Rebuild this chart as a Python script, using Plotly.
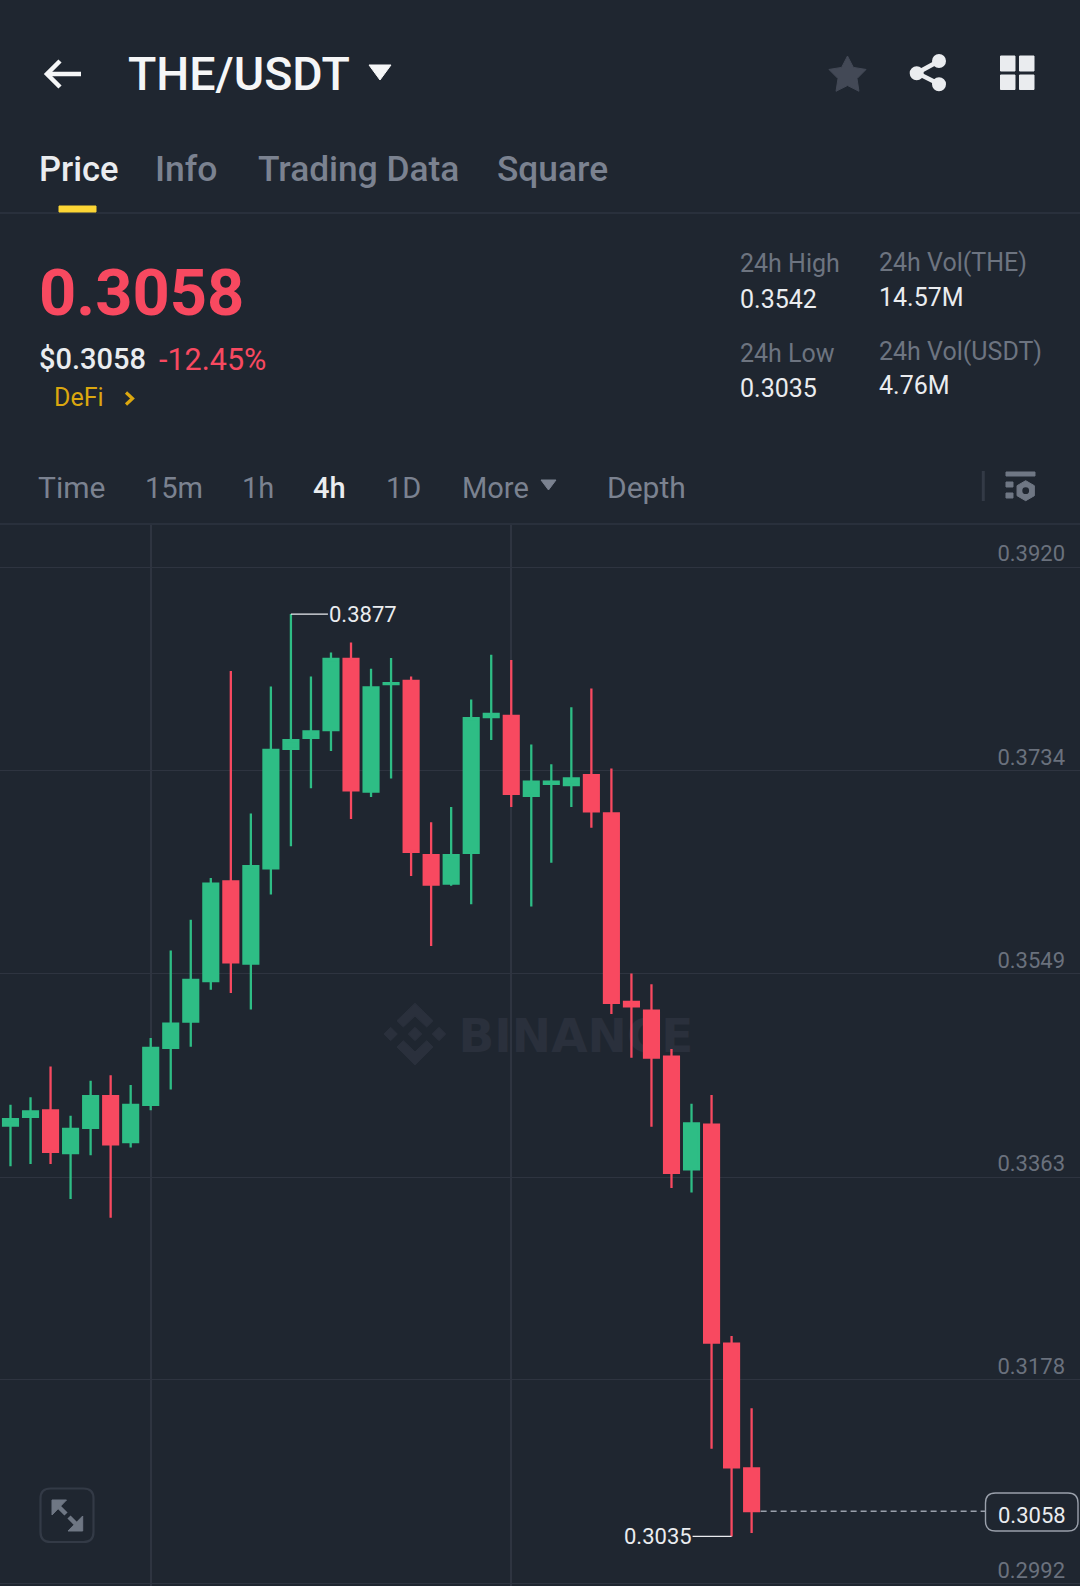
import math
import plotly.graph_objects as go

W, H = 1080, 1586
BG = "#1f2630"
GRID = "#2e3440"
RED = "#f84960"
GREEN = "#2ebd85"
WHITE = "#eaecef"
GREY = "#7b8290"
DIM = "#6d7480"
ICON = "#6f7784"
FONT = "Roboto"

opens = [.3410,.3418,.3424,.3385,.3408,.3437,.3395,.3429,.3481,.3505,.3542,.3633,.3558,.3645,.3754,.3764,.3771,.3836,.3715,
         .3813,.3816,.3657,.3631,.3659,.3783,.3784,.3711,.3722,.3721,.3730,.3695,.3523,.3515,.3473,.3370,.3411,.3211,.3097]
highs = [.3429,.3436,.3464,.3419,.3451,.3456,.3447,.3490,.3570,.3598,.3636,.3825,.3695,.3811,.3877,.3820,.3842,.3851,.3827,
         .3837,.3820,.3687,.3701,.3799,.3840,.3835,.3758,.3740,.3792,.3809,.3736,.3549,.3539,.3480,.3430,.3438,.3218,.3152]
lows = [.3373,.3375,.3375,.3343,.3383,.3326,.3390,.3424,.3443,.3482,.3534,.3531,.3516,.3621,.3665,.3718,.3752,.3690,.3710,
        .3727,.3638,.3574,.3629,.3612,.3762,.3701,.3610,.3650,.3701,.3682,.3512,.3472,.3409,.3353,.3349,.3115,.3035,.3038]
closes = [.3416,.3423,.3386,.3407,.3437,.3393,.3429,.3481,.3503,.3543,.3631,.3559,.3647,.3753,.3762,.3770,.3836,.3716,.3810,
          .3814,.3660,.3630,.3657,.3782,.3786,.3713,.3724,.3724,.3727,.3697,.3522,.3519,.3472,.3367,.3412,.3212,.3098,.3058]
price_ticks = [0.3920, 0.3734, 0.3549, 0.3363, 0.3178, 0.2992]
price_labels = ["0.3920", "0.3734", "0.3549", "0.3363", "0.3178", "0.2992"]
time_grid = [7, 25]
high_value, low_value, last_value = 0.3877, 0.3035, 0.3058


def px(x):
    return x / W


def py(y):
    return 1 - y / H


def P(x, y):
    return f"{px(x):.5f},{py(y):.5f}"


def line_path(pts, close=False):
    s = "M" + " L".join(P(*p) for p in pts)
    return s + (" Z" if close else "")


def rrect(x0, y0, x1, y1, r):
    return (f"M{P(x0+r,y0)} L{P(x1-r,y0)} Q{P(x1,y0)} {P(x1,y0+r)} L{P(x1,y1-r)} Q{P(x1,y1)} {P(x1-r,y1)} "
            f"L{P(x0+r,y1)} Q{P(x0,y1)} {P(x0,y1-r)} L{P(x0,y0+r)} Q{P(x0,y0)} {P(x0+r,y0)} Z")


annotations = []


def label(text, x, y, size, color, anchor="left", weight=400):
    annotations.append(dict(text=text, xref="paper", yref="paper", x=px(x), y=py(y), xanchor=anchor, yanchor="middle",
                            showarrow=False, borderpad=0, borderwidth=0,
                            font=dict(family=FONT, size=size, color=color, weight=weight)))


label("THE/USDT", 128, 74, 46.5, "#f5f6f7", weight=500)
label("Price", 39, 169, 34.5, WHITE, weight=500)
label("Info", 155, 169, 35.5, GREY, weight=500)
label("Trading Data", 258, 169, 35.3, GREY, weight=500)
label("Square", 497, 169, 35.3, GREY, weight=500)
label("0.3058", 39, 293, 65, RED, weight=700)
label("$0.3058", 38.5, 359, 29, WHITE, weight=500)
label("-12.45%", 159, 359, 30.5, RED)
label("DeFi", 53.5, 398, 25, "#dba70f")
label("24h High", 740, 263, 25, DIM)
label("0.3542", 740, 299, 25, WHITE)
label("24h Vol(THE)", 879, 262, 25, DIM)
label("14.57M", 879, 297, 25, WHITE)
label("24h Low", 740, 354, 25, DIM)
label("0.3035", 740, 388, 25, WHITE)
label("24h Vol(USDT)", 879, 351, 25, DIM)
label("4.76M", 879, 386, 25, WHITE)
label("Time", 38, 487, 30, GREY)
label("15m", 145, 488, 29, GREY)
label("1h", 242, 488, 29, GREY)
label("4h", 313, 488, 29, WHITE, weight=500)
label("1D", 386, 488, 29, GREY)
label("More", 462, 488, 29, GREY)
label("Depth", 607, 487, 30, GREY)
label("0.3058", 1032, 1515, 22, WHITE, anchor="center")

for val, idx, off, anc in [(high_value, 14, 37, "left"), (low_value, 36, -39, "right")]:
    annotations.append(dict(text=f"{val:.4f}", xref="x", yref="y", x=idx, y=val, axref="pixel", ayref="pixel",
                            ax=off, ay=0, xanchor=anc, yanchor="middle", showarrow=True, arrowhead=0, arrowwidth=1.2,
                            arrowcolor=WHITE, standoff=0, startstandoff=0, borderpad=0,
                            font=dict(family=FONT, size=22, color=WHITE)))

shapes = []


def stroke(p, color, width=2):
    shapes.append(dict(type="path", xref="paper", yref="paper", path=p, line=dict(color=color, width=width),
                       fillcolor="rgba(0,0,0,0)"))


def fill(p, color, layer="above"):
    shapes.append(dict(type="path", xref="paper", yref="paper", path=p, line=dict(color=color, width=1),
                       fillcolor=color, layer=layer))


def circ(cx, cy, r, color):
    shapes.append(dict(type="circle", xref="paper", yref="paper", x0=px(cx - r), x1=px(cx + r), y0=py(cy + r), y1=py(cy - r),
                       line=dict(color=color, width=0), fillcolor=color))


# dividers
for y in (213, 524):
    stroke(line_path([(0, y), (W, y)]), GRID, 1.5)
fill(line_path([(59, 206), (96, 206), (96, 212), (59, 212)], True), "#fcd535")
# back arrow
stroke(line_path([(47, 74), (81, 74)]), "#f5f6f7", 4.5)
stroke(line_path([(60, 61), (47, 74), (60, 87)]), "#f5f6f7", 4.5)
# drop-down triangles
fill(line_path([(369, 65), (391, 65), (380, 80)], True), "#f5f6f7")
fill(line_path([(541, 480), (556, 480), (548.5, 490)], True), GREY)
# DeFi chevron
stroke(line_path([(126, 392.5), (132.5, 398.5), (126, 404.5)]), "#dba70f", 3.2)
# star
star = []
for k in range(10):
    r = 19.5 if k % 2 == 0 else 10
    a = -math.pi / 2 + k * math.pi / 5
    star.append((847.5 + r * math.cos(a), 75.5 + r * math.sin(a)))
fill(line_path(star, True), "#434956")
# share
stroke(line_path([(939, 61), (917, 73), (939, 84)]), WHITE, 4.5)
circ(916.7, 73.3, 7, WHITE)
circ(939, 61, 7, WHITE)
circ(939, 84.3, 7, WHITE)
# grid icon
for x0, x1 in ((1000.5, 1015), (1019.5, 1034)):
    for y0, y1 in ((56, 71), (75, 89.5)):
        fill(line_path([(x0, y0), (x1, y0), (x1, y1), (x0, y1)], True), WHITE)
# settings icon
stroke(line_path([(983.3, 471), (983.3, 501)]), "#333a46", 3)
fill(line_path([(1006, 472), (1035, 472), (1035, 476), (1006, 476)], True), ICON)
fill(line_path([(1006, 482), (1013, 482), (1013, 487), (1006, 487)], True), ICON)
fill(line_path([(1006, 493), (1013, 493), (1013, 498), (1006, 498)], True), ICON)
hexagon = [(1025.7 + 10 * math.sin(k * math.pi / 3), 490.7 - 10 * math.cos(k * math.pi / 3)) for k in range(6)]
fill(line_path(hexagon, True), ICON)
circ(1025.7, 490.7, 3.4, BG)
# price box
stroke(rrect(985.5, 1493, 1078, 1531, 10), "#9aa0ab", 1.4)
# expand button
stroke(rrect(40.5, 1488.5, 93.5, 1542, 10), "#333a46", 2.2)
stroke(line_path([(56, 1504), (66, 1514)]), ICON, 4.5)
stroke(line_path([(69, 1517), (79, 1527)]), ICON, 4.5)
fill(line_path([(52, 1500), (66.5, 1500), (52, 1515)], True), ICON)
fill(line_path([(82.7, 1531), (68, 1531), (82.7, 1516)], True), ICON)
# watermark
WM = "#2a303c"
fill(line_path([(415, 1003.3), (433, 1020.7), (426.7, 1027), (415, 1016), (403.3, 1027), (397, 1020.7)], True), WM, "below")
fill(line_path([(415, 1065), (433, 1047), (426.7, 1040.7), (415, 1052), (403.3, 1040.7), (397, 1047)], True), WM, "below")
fill(line_path([(415, 1027.3), (421.7, 1034), (415, 1040.7), (408.3, 1034)], True), WM, "below")
fill(line_path([(390.7, 1027.3), (397.3, 1034), (390.7, 1040.7), (384, 1034)], True), WM, "below")
fill(line_path([(439, 1027.3), (445.7, 1034), (439, 1040.7), (432.3, 1034)], True), WM, "below")
shapes.append(dict(type="rect", xref="paper", yref="paper", x0=px(456), x1=px(696), y0=py(1054), y1=py(1011), layer="below",
                   line=dict(width=0), fillcolor="rgba(0,0,0,0)",
                   label=dict(text="BINANCE", textposition="middle center",
                              font=dict(family="DejaVu Sans", size=47, color=WM, weight=700))))

x0_px, step = 10.5, 20.03
xr = [(0 - x0_px) / step, (W - x0_px) / step]
TOP, BOTTOM = 525, 1586
slope = (0.3920 - 0.2992) / (1583.5 - 567)
yr = [0.2992 - (BOTTOM - 1583.5) * slope, 0.2992 + (1583.5 - TOP) * slope]

idx = list(range(len(opens)))
fig = go.Figure()
fig.add_trace(go.Candlestick(x=idx, open=opens, high=highs, low=lows, close=closes, whiskerwidth=0,
                             increasing=dict(line=dict(color=GREEN, width=2.3), fillcolor=GREEN),
                             decreasing=dict(line=dict(color=RED, width=2.3), fillcolor=RED),
                             showlegend=False, hoverinfo="skip"))
fig.add_trace(go.Scatter(x=[idx[-1] + 0.45, (985 - x0_px) / step], y=[last_value, last_value], mode="lines",
                         line=dict(color="#9aa0ab", width=1.6, dash="6px,4px"), showlegend=False, hoverinfo="skip"))
fig.update_layout(
    width=W, height=H, autosize=False, margin=dict(l=0, r=0, t=0, b=0, pad=0),
    paper_bgcolor=BG, plot_bgcolor=BG, boxgap=0.26, boxgroupgap=0, showlegend=False,
    annotations=annotations, shapes=shapes, font=dict(family=FONT),
    xaxis=dict(range=xr, tickmode="array", tickvals=time_grid, showticklabels=False, ticks="", showgrid=True,
               gridcolor=GRID, gridwidth=1.5, zeroline=False, showline=False, rangeslider=dict(visible=False), fixedrange=True),
    yaxis=dict(range=yr, domain=[0, (BOTTOM - TOP) / H], side="right", tickmode="array", tickvals=price_ticks, ticktext=price_labels,
               ticklabelposition="inside top", ticks="", ticklabelstandoff=12, ticklabelshift=2, showgrid=True, gridcolor=GRID, gridwidth=1.2,
               zeroline=False, showline=False, tickfont=dict(family=FONT, size=22, color="#6a717d"), fixedrange=True),
)
fig.write_html("out.html", config=dict(displayModeBar=False),
               post_script="document.body.style.margin='0';document.body.style.overflow='hidden';document.body.style.background='" + BG + "';")
